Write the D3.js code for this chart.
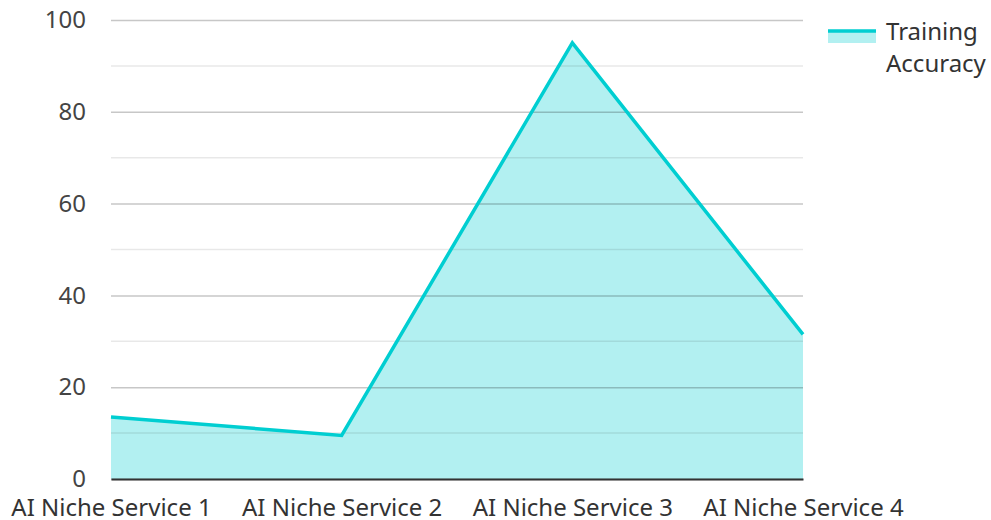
<!DOCTYPE html>
<html>
<head>
<meta charset="utf-8">
<script src="https://cdn.jsdelivr.net/npm/d3@7"></script>
<style>
  body { margin: 0; background: #fff; }
  svg, svg text { font-family: "Noto Sans", sans-serif; }
</style>
</head>
<body>
<div id="chart"></div>
<script>
// chart values
const categories = ["AI Niche Service 1", "AI Niche Service 2", "AI Niche Service 3", "AI Niche Service 4"];
const accuracy = [13.5, 9.5, 95, 31.5];
const seriesName = ["Training", "Accuracy"];
const yTicks = [0, 20, 40, 60, 80, 100];
const yMinor = [10, 30, 50, 70, 90];

const width = 991;
const height = 520;
const margin = { top: 20, right: 188, bottom: 41, left: 111 };
const chartWidth = width - margin.left - margin.right;
const chartHeight = height - margin.top - margin.bottom;

const lineColour = '#00ced1';
const fontSize = '24px';

const xScale = d3.scalePoint()
    .domain(categories)
    .range([0, chartWidth]);

const yScale = d3.scaleLinear()
    .domain([0, 100])
    .range([chartHeight, 0]);

let svg = d3.select('#chart')
    .append('svg')
        .attr('width', width)
        .attr('height', height);

let g = svg.append('g')
    .attr('transform', `translate(${margin.left}, ${margin.top})`);

const points = categories.map((c, i) => ({ cat: c, value: accuracy[i] }));

// area fill first, grid goes over it
const area = d3.area()
    .x(d => xScale(d.cat))
    .y0(chartHeight)
    .y1(d => yScale(d.value));

g.append('path')
    .datum(points)
    .attr('d', area)
    .attr('fill', lineColour)
    .attr('fill-opacity', 0.3);

// minor grid
g.append('g')
    .selectAll('line')
    .data(yMinor)
    .enter()
        .append('line')
            .attr('x1', 0)
            .attr('x2', chartWidth)
            .attr('y1', d => yScale(d))
            .attr('y2', d => yScale(d))
            .attr('stroke', '#000')
            .attr('stroke-opacity', 0.09)
            .attr('stroke-width', 1.5);

// major grid + labels
const yAxis = g.append('g')
    .call(d3.axisLeft(yScale).tickValues(yTicks).tickSize(-chartWidth).tickPadding(25));
yAxis.attr('font-family', null);
yAxis.select('.domain').remove();
yAxis.selectAll('.tick line')
    .attr('stroke', '#000')
    .attr('stroke-opacity', 0.22)
    .attr('stroke-width', 1.5);
yAxis.selectAll('.tick text')
    .attr('fill', '#444')
    .style('font-size', fontSize);

// line
const line = d3.line()
    .x(d => xScale(d.cat))
    .y(d => yScale(d.value));

g.append('path')
    .datum(points)
    .attr('d', line)
    .attr('fill', 'none')
    .attr('stroke', lineColour)
    .attr('stroke-width', 3.5)
    .attr('stroke-linejoin', 'miter');

// x axis
const xAxis = g.append('g')
    .attr('transform', `translate(0, ${chartHeight})`)
    .call(d3.axisBottom(xScale).tickSize(0).tickPadding(20));
xAxis.attr('font-family', null);
xAxis.select('.domain')
    .attr('stroke', '#333')
    .attr('stroke-width', 2);
xAxis.selectAll('.tick text')
    .attr('fill', '#333')
    .style('font-size', fontSize);

// legend
const legend = svg.append('g')
    .attr('transform', `translate(828, 0)`);
legend.append('rect')
    .attr('x', 0).attr('y', 31)
    .attr('width', 48).attr('height', 12)
    .attr('fill', lineColour)
    .attr('fill-opacity', 0.3);
legend.append('line')
    .attr('x1', 0).attr('x2', 48)
    .attr('y1', 31).attr('y2', 31)
    .attr('stroke', lineColour)
    .attr('stroke-width', 3.5);
legend.selectAll('text.name')
    .data(seriesName)
    .enter()
        .append('text')
            .attr('class', 'name')
            .attr('x', 58)
            .attr('y', (d, i) => 40 + i * 32)
            .attr('fill', '#333')
            .style('font-size', fontSize)
            .text(d => d);
</script>
</body>
</html>
